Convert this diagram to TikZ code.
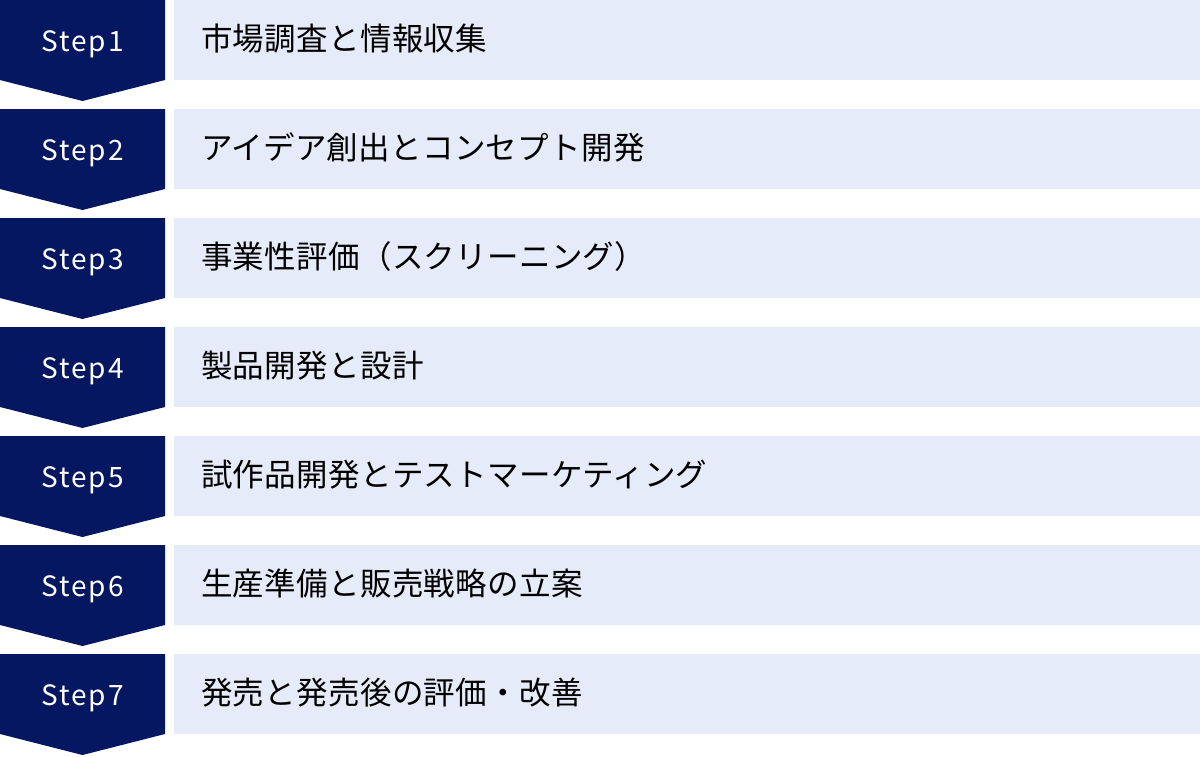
\documentclass[tikz,border=0pt]{standalone}
\usepackage{fontspec}
\setmainfont{Noto Sans}
\newfontfamily\cjk[LetterSpace=1]{Noto Sans CJK JP}
\newfontfamily\cjkspaced[LetterSpace=7]{Noto Sans CJK JP}
\definecolor{navy}{HTML}{061762}
\definecolor{pale}{HTML}{E5EBF8}
\begin{document}
\begin{tikzpicture}[x=1pt,y=-1pt,
  chev/.style={fill=navy,draw=none},
  bar/.style={fill=pale,draw=none},
  steplabel/.style={text=white,font=\cjkspaced\fontsize{28}{32}\selectfont,anchor=base,inner sep=0pt},
  desc/.style={text=black,font=\cjk\fontsize{31.5}{36}\selectfont,anchor=base west,inner sep=0pt}]
\useasboundingbox (0,0) rectangle (1200,756);
\fill[white] (0,0) rectangle (1200,756);
\foreach \i/\t in {1/市場調査と情報収集,2/アイデア創出とコンセプト開発,3/事業性評価（スクリーニング）,4/製品開発と設計,5/試作品開発とテストマーケティング,6/生産準備と販売戦略の立案,7/発売と発売後の評価・改善}{
  \pgfmathsetmacro{\top}{(\i-1)*109}
  \fill[chev] (0,\top) -- (165,\top) -- (165,\top+80) -- (82.5,\top+101) -- (0,\top+80) -- cycle;
  \fill[bar] (174,\top) rectangle (1200,\top+80);
  \node[steplabel] (s\i) at (82.5,\top+51) {Step\i};
  \node[desc] (d\i) at (201,\top+50) {\t};
}
\end{tikzpicture}
\end{document}
